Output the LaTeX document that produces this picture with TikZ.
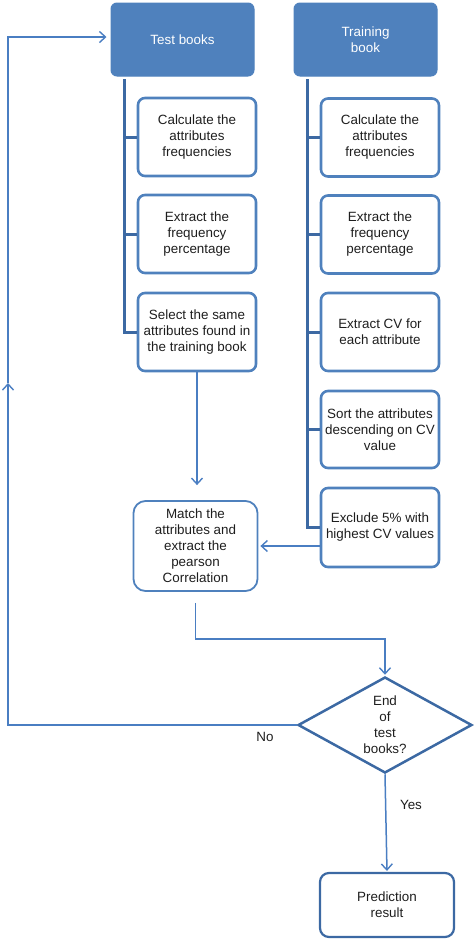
\documentclass[tikz,border=0pt]{standalone}
\usepackage{fontspec}
\setmainfont{Liberation Sans}
\usetikzlibrary{shapes.geometric,arrows.meta}
\definecolor{boxblue}{HTML}{4F81BD}
\definecolor{barblue}{HTML}{3C69A3}
\definecolor{lineblue}{HTML}{4A7EC2}
\definecolor{txt}{HTML}{1E1E1E}
\begin{document}
\begin{tikzpicture}[x=1pt,y=-1pt,
  font=\fontsize{13.4}{16}\selectfont,
  header/.style={draw=boxblue,fill=boxblue,rounded corners=6pt,line width=1pt,text=white,align=center,minimum width=143pt,minimum height=73pt,inner sep=0pt},
  stepbox/.style={draw=boxblue,line width=2.6pt,rounded corners=7pt,text=txt,align=center,minimum width=118pt,minimum height=78pt,inner sep=0pt},
  bar/.style={draw=barblue,line width=3pt},
  conn/.style={draw=lineblue,line width=1.5pt},
  arr/.style={conn,-{Straight Barb[length=6pt,width=11pt,line width=1.4pt]}},
  lbl/.style={text=txt,inner sep=0pt}
]
\useasboundingbox (0,0) rectangle (474,940);
% headers
\node[header] (TB) at (182.5,39.5) {Test books};
\node[header] (TR) at (365.5,39.5) {Training\\book};
% left column
\node[stepbox] (L1) at (197,137) {Calculate the\\attributes\\frequencies};
\node[stepbox] (L2) at (197,234) {Extract the\\frequency\\percentage};
\node[stepbox] (L3) at (197,332) {Select the same\\attributes found in\\the training book};
% right column
\node[stepbox] (R1) at (380,137.5) {Calculate the\\attributes\\frequencies};
\node[stepbox] (R2) at (380,234.5) {Extract the\\frequency\\percentage};
\node[stepbox] (R3) at (380,332) {Extract CV for\\each attribute};
\node[stepbox,minimum height=77pt] (R4) at (380,429.5) {Sort the attributes\\descending on CV\\value};
\node[stepbox,minimum height=79pt] (R5) at (380,527.5) {Exclude 5\% with\\highest CV values};
% match
\node[stepbox,minimum width=124pt,minimum height=90pt,rounded corners=12pt,line width=1.8pt] (M) at (195.5,546) {Match the\\attributes and\\extract the\\pearson\\Correlation};
% decision
\node[diamond,draw=barblue,line width=2.5pt,minimum width=174pt,minimum height=96pt,aspect=1.8,inner sep=0pt,text=txt,align=center] (D) at (385,725) {End\\of\\test\\books?};
% prediction
\node[stepbox,minimum width=134pt,minimum height=64pt,rounded corners=9pt,line width=2.2pt,draw=barblue] (P) at (387,905) {Prediction\\result};
% bars
\coordinate (lt) at (124,79);
\coordinate (rt) at (307,79);
\draw[bar] (lt) |- (L3.west);
\draw[bar] (lt |- L1.west) -- (L1.west);
\draw[bar] (lt |- L2.west) -- (L2.west);
\draw[bar] (rt) |- (R5.west);
\draw[bar] (rt |- R1.west) -- (R1.west);
\draw[bar] (rt |- R2.west) -- (R2.west);
\draw[bar] (rt |- R3.west) -- (R3.west);
\draw[bar] (rt |- R4.west) -- (R4.west);
% connectors
\draw[arr,shorten >=15pt] (L3.south) -- (L3.south |- M.north);
\draw[arr,shorten >=2pt] (R5.west |- M.east) -- (M.east);
\coordinate (mb) at (195.5,639);
\draw[arr,shorten <=11pt,shorten >=1pt] (M.south) -- (mb) -| (D.north);
\coordinate (nl) at (8,725);
\coordinate (nm) at (8,383);
\coordinate (nu) at (8,37);
\draw[arr] (D.west) -- (nl) -- (nm);
\draw[arr,shorten >=4pt] (nm) -- (nu) -- (nu -| TB.west);
\draw[arr,shorten >=1pt] (D.south) -- (P.north);
% labels
\node[lbl] (no) at (265,737) {No};
\node[lbl] (yes) at (411,805) {Yes};
\end{tikzpicture}
\end{document}
